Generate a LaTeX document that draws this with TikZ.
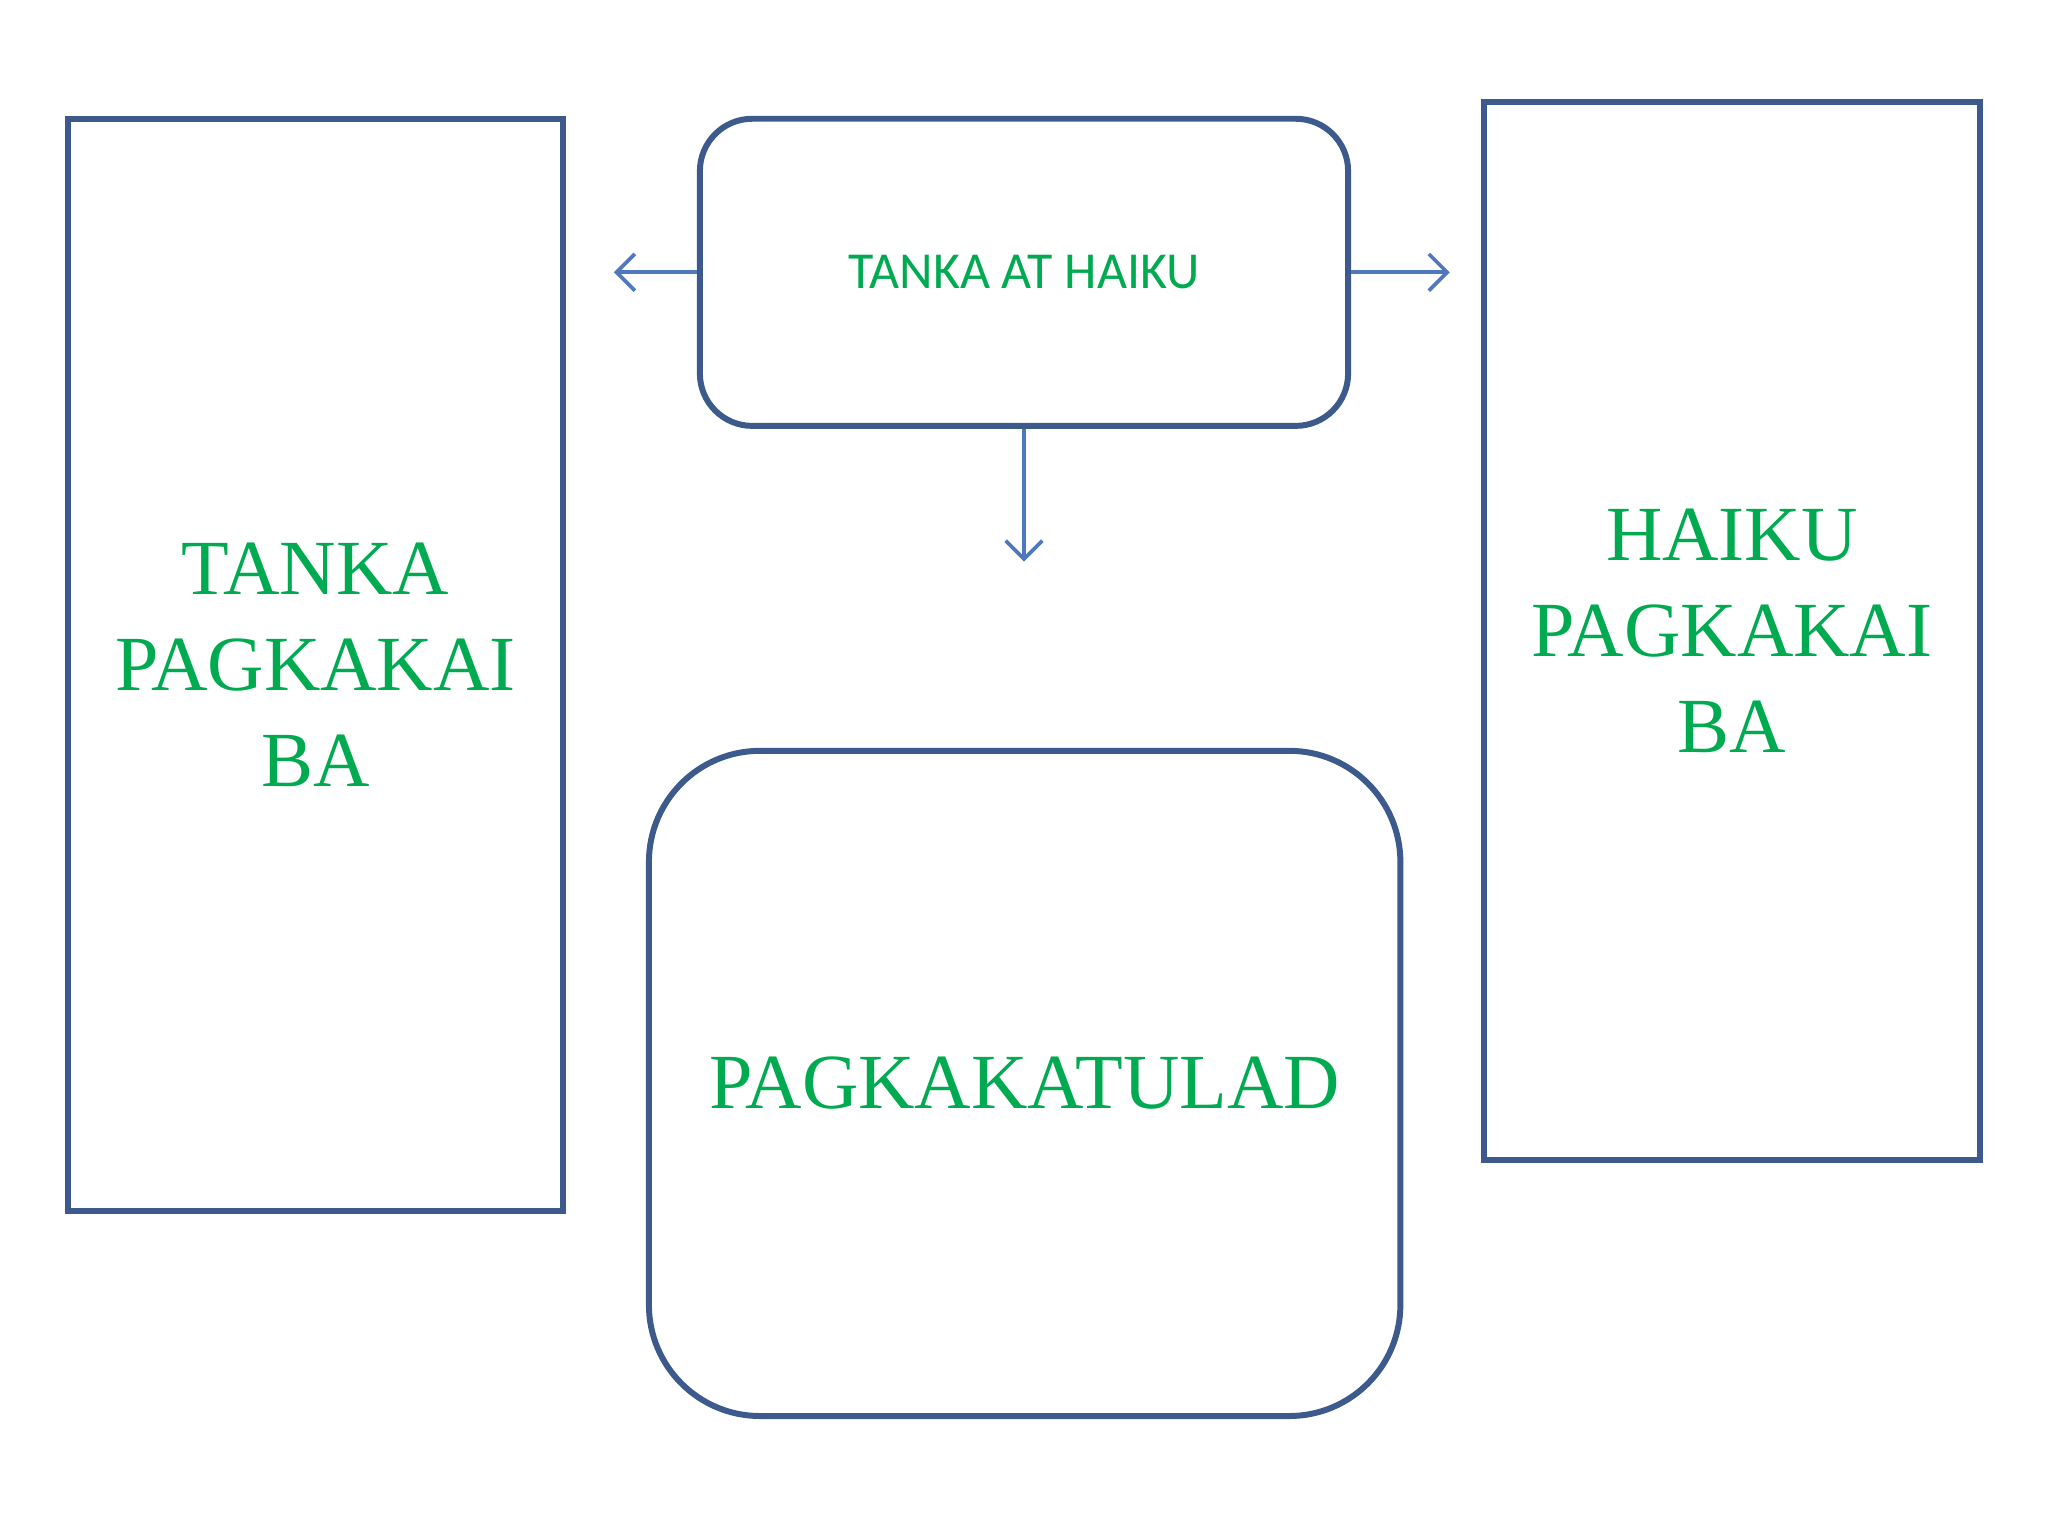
\documentclass[tikz,border=0pt]{standalone}
\usepackage{fontspec}
\setmainfont{Liberation Serif}
\newfontfamily\calib{Carlito}
\usetikzlibrary{arrows.meta}
\definecolor{bord}{RGB}{60,90,140}
\definecolor{arr}{RGB}{80,120,190}
\definecolor{grn}{RGB}{0,170,80}
\begin{document}
\begin{tikzpicture}[x=0.01cm,y=-0.01cm,
  box/.style={draw=bord,line width=1.3pt,inner sep=0pt},
  big/.style={text=grn,font=\fontsize{17}{21}\selectfont,align=center},
  conn/.style={draw=arr,line width=0.8pt,-{Straight Barb[length=4pt,width=8pt]}}]
\useasboundingbox (0,0) rectangle (1568,1176);
\node[box,minimum width=3.79cm,minimum height=8.36cm,big] (tl) at (241.5,509) {TANKA\\PAGKAKAI\\BA};
\node[box,minimum width=3.80cm,minimum height=8.10cm,big] (tr) at (1326,483) {HAIKU\\PAGKAKAI\\BA};
\node[box,rounded corners=0.4cm,minimum width=4.96cm,minimum height=2.35cm,text=grn,font=\calib\fontsize{11.3}{14}\selectfont] (c) at (784,208.5) {TANKA AT HAIKU};
\node[box,rounded corners=0.85cm,minimum width=5.75cm,minimum height=5.09cm,big] (bt) at (784.5,829.5) {PAGKAKATULAD};
\coordinate (el) at (470,208.5); \coordinate (er) at (1110,208.5); \coordinate (eb) at (784,430);
\draw[conn] (c.west) -- (el);
\draw[conn] (c.east) -- (er);
\draw[conn] (c.south) -- (eb);
\end{tikzpicture}
\end{document}
